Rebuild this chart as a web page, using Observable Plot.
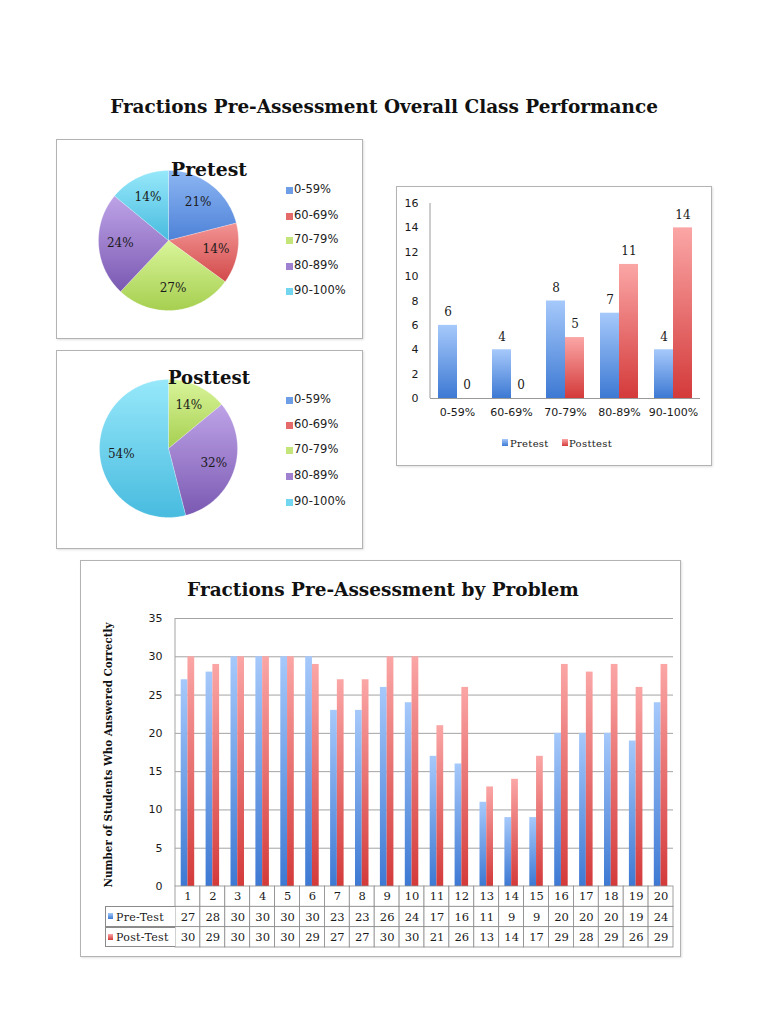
<!DOCTYPE html>
<html>
<head>
<meta charset="utf-8">
<script src="https://cdn.jsdelivr.net/npm/d3@7"></script>
<script src="https://cdn.jsdelivr.net/npm/@observablehq/plot@0.6"></script>
<style>
  body { margin: 0; background: #fff; }
  #page { position: relative; width: 768px; height: 1024px; overflow: hidden; background: #fff; }
  .box { position: absolute; border: 1px solid #b3b3b3; box-sizing: border-box; box-shadow: 1px 1px 2px rgba(0,0,0,0.12); background: #fff; }
  .txt { position: absolute; white-space: nowrap; color: #111; }
  .plotwrap { position: absolute; }
  .plotwrap svg { overflow: visible; }
</style>
</head>
<body>
<svg width="0" height="0" style="position:absolute">
  <defs>
    <linearGradient id="barBlue" x1="0" y1="0" x2="0" y2="1">
      <stop offset="0" stop-color="#a6c9fb"/><stop offset="1" stop-color="#3d79d3"/>
    </linearGradient>
    <linearGradient id="barRed" x1="0" y1="0" x2="0" y2="1">
      <stop offset="0" stop-color="#fba6a6"/><stop offset="1" stop-color="#d43a3a"/>
    </linearGradient>
    <linearGradient id="pie0" x1="0" y1="0" x2="0" y2="1">
      <stop offset="0" stop-color="#8cb5f2"/><stop offset="1" stop-color="#4e82d8"/>
    </linearGradient>
    <linearGradient id="pie1" x1="0" y1="0" x2="0" y2="1">
      <stop offset="0" stop-color="#f39494"/><stop offset="1" stop-color="#d24a4a"/>
    </linearGradient>
    <linearGradient id="pie2" x1="0" y1="0" x2="0" y2="1">
      <stop offset="0" stop-color="#d9f59a"/><stop offset="1" stop-color="#a6cf50"/>
    </linearGradient>
    <linearGradient id="pie3" x1="0" y1="0" x2="0" y2="1">
      <stop offset="0" stop-color="#bea3e7"/><stop offset="1" stop-color="#7a59b2"/>
    </linearGradient>
    <linearGradient id="pie4" x1="0" y1="0" x2="0" y2="1">
      <stop offset="0" stop-color="#97e8fa"/><stop offset="1" stop-color="#48bbdf"/>
    </linearGradient>
  </defs>
</svg>
<div id="page"></div>
<script>
// ---------------- DATA ----------------
const ranges = ["0-59%", "60-69%", "70-79%", "80-89%", "90-100%"];
const pretestPct = [21, 14, 27, 24, 14];
const posttestPct = [0, 0, 14, 32, 54];
const pretestCounts = [6, 4, 8, 7, 4];
const posttestCounts = [0, 0, 5, 11, 14];
const topTicks = [0, 2, 4, 6, 8, 10, 12, 14, 16];

const problems = [1, 2, 3, 4, 5, 6, 7, 8, 9, 10, 11, 12, 13, 14, 15, 16, 17, 18, 19, 20];
const preTest = [27, 28, 30, 30, 30, 30, 23, 23, 26, 24, 17, 16, 11, 9, 9, 20, 20, 20, 19, 24];
const postTest = [30, 29, 30, 30, 30, 29, 27, 27, 30, 30, 21, 26, 13, 14, 17, 29, 28, 29, 26, 29];
const bottomTicks = [0, 5, 10, 15, 20, 25, 30, 35];
const rowLabels = ["Pre-Test", "Post-Test"];

const mainTitle = "Fractions Pre-Assessment Overall Class Performance";
const bottomTitle = "Fractions Pre-Assessment by Problem";
const yTitle = "Number of Students Who Answered Correctly";

// ---------------- HELPERS ----------------
const NS = "http://www.w3.org/2000/svg";
const page = document.getElementById("page");
const ctx = document.createElement("canvas").getContext("2d");
function fitSize(text, weight, family, target) {
  ctx.font = `${weight} 100px ${family}`;
  return 100 * target / ctx.measureText(text).width;
}
function box(l, t, r, b) {
  const d = document.createElement("div");
  d.className = "box";
  d.style.cssText = `left:${l}px;top:${t}px;width:${r - l}px;height:${b - t}px;`;
  page.appendChild(d);
}
function label(text, x, baseline, size, family, weight, anchor, extra = "") {
  const d = document.createElement("div");
  d.className = "txt";
  d.textContent = text;
  const top = baseline - 0.845 * size;
  d.style.cssText = `top:${top}px;font:${weight} ${size}px ${family};line-height:${size}px;${extra}`;
  if (anchor === "middle") { d.style.left = x + "px"; d.style.transform = "translateX(-50%)"; }
  else d.style.left = x + "px";
  page.appendChild(d);
  return d;
}
function swatch(x, y, w, h, fill) {
  const d = document.createElement("div");
  d.style.cssText = `position:absolute;left:${x}px;top:${y}px;width:${w}px;height:${h}px;background:${fill};`;
  page.appendChild(d);
}
function mount(svg, left, top) {
  const w = document.createElement("div");
  w.className = "plotwrap";
  w.style.left = left + "px"; w.style.top = top + "px";
  w.appendChild(svg);
  page.appendChild(w);
}
function leftLine(color) {
  return (index, scales, values, dims) => {
    const l = document.createElementNS(NS, "line");
    l.setAttribute("x1", dims.marginLeft); l.setAttribute("x2", dims.marginLeft);
    l.setAttribute("y1", dims.marginTop); l.setAttribute("y2", dims.height - dims.marginBottom);
    l.setAttribute("stroke", color);
    return l;
  };
}

// ---------------- BOXES ----------------
box(56, 139, 363, 339);
box(56, 350, 363, 549);
box(396, 186, 712, 466);
box(80, 560, 681, 957);

// ---------------- MAIN TITLE ----------------
const SERIF = '"DejaVu Serif"';
const SANS = '"DejaVu Sans"';
label(mainTitle, 384, 114, fitSize(mainTitle, "bold", SERIF, 548), SERIF, "bold", "middle");

// ---------------- PIES ----------------
const pieColors = ["#6e9ee6", "#e56b6b", "#c3e57a", "#9f80d1", "#73d6f0"];
function pie(pcts, title, cx, cy, r, titleBaseline, titleWidth, legendYs) {
  let acc = 0;
  const slices = [];
  pcts.forEach((p, i) => {
    const a0 = acc / 100 * 2 * Math.PI; acc += p; const a1 = acc / 100 * 2 * Math.PI;
    if (p <= 0) return;
    const n = Math.max(2, Math.ceil((a1 - a0) / (Math.PI / 180)));
    const pts = [{x: 0, y: 0}];
    for (let k = 0; k <= n; k++) { const a = a0 + (a1 - a0) * k / n; pts.push({x: Math.sin(a), y: Math.cos(a)}); }
    pts.push({x: 0, y: 0});
    slices.push({i, range: ranges[i], pct: p, pts, mid: (a0 + a1) / 2});
  });
  const size = 2 * r;
  const svg = Plot.plot({
    width: size, height: size, margin: 0,
    style: {background: "transparent", overflow: "visible"},
    x: {domain: [-1, 1], axis: null},
    y: {domain: [-1, 1], axis: null},
    marks: [
      ...slices.map(s => Plot.line(s.pts, {x: "x", y: "y", fill: `url(#pie${s.i})`, stroke: "#ffffff", strokeWidth: 0.4, strokeOpacity: 0.6})),
      Plot.text(slices, {
        x: d => 0.69 * Math.sin(d.mid), y: d => 0.69 * Math.cos(d.mid),
        text: d => d.pct + "%", fontFamily: "DejaVu Serif", fontSize: 12, fill: "#1a1a1a"
      })
    ]
  });
  mount(svg, cx - r, cy - r);
  label(title, 209, titleBaseline, fitSize(title, "bold", SERIF, titleWidth), SERIF, "bold", "middle");
  ranges.forEach((rg, i) => {
    swatch(286, legendYs[i] - 3.5, 7, 7, pieColors[i]);
    label(rg, 294, legendYs[i] + 4, 11.5, SANS, "normal", "start", "color:#222;");
  });
}
pie(pretestPct, "Pretest", 168, 240, 70, 176, 76, [190, 216, 240, 266, 291]);
pie(posttestPct, "Posttest", 168, 448, 69, 384, 82, [400, 425, 450, 476, 502]);

// ---------------- TOP-RIGHT GROUPED BARS ----------------
const topData = ranges.map((r, i) => ({range: r, pre: pretestCounts[i], post: posttestCounts[i]}));
const topSvg = Plot.plot({
  width: 315, height: 240, marginLeft: 34, marginRight: 11, marginTop: 17, marginBottom: 28,
  style: {background: "transparent", fontFamily: "DejaVu Sans", fontSize: "11px", color: "#1a1a1a", overflow: "visible"},
  x: {domain: ranges, padding: 0, round: false, label: null, tickSize: 0, tickPadding: 10},
  y: {domain: [0, 16], ticks: topTicks, tickSize: 0, tickPadding: 12, label: null},
  marks: [
    Plot.barY(topData, {x: "range", y: "pre", fill: "url(#barBlue)", insetLeft: 8, insetRight: 27}),
    Plot.barY(topData, {x: "range", y: "post", fill: "url(#barRed)", insetLeft: 27, insetRight: 8}),
    Plot.text(topData, {x: "range", y: "pre", text: d => String(d.pre), dx: -9.5, dy: -13, fontFamily: "DejaVu Serif", fontSize: 12, fill: "#1a1a1a"}),
    Plot.text(topData, {x: "range", y: "post", text: d => String(d.post), dx: 9.5, dy: -13, fontFamily: "DejaVu Serif", fontSize: 12, fill: "#1a1a1a"}),
    Plot.ruleY([0], {stroke: "#9a9a9a"}),
    leftLine("#9a9a9a")
  ]
});
mount(topSvg, 396, 186);
swatch(502, 439, 6, 7, "linear-gradient(#a6c9fb,#3d79d3)");
label("Pretest", 510, 447, 10, SERIF, "normal", "start", "letter-spacing:0.3px;color:#222;");
swatch(562, 439, 6, 7, "linear-gradient(#fba6a6,#d43a3a)");
label("Posttest", 569, 447, 10, SERIF, "normal", "start", "letter-spacing:0.3px;color:#222;");

// ---------------- BOTTOM BAR CHART ----------------
label(bottomTitle, 383, 597, fitSize(bottomTitle, "bold", SERIF, 392), SERIF, "bold", "middle");
const yt = label(yTitle, 0, 0, fitSize(yTitle, "bold", SERIF, 265), SERIF, "bold", "start");
yt.style.left = "108px"; yt.style.top = "755px";
yt.style.transform = "translate(-50%,-50%) rotate(-90deg)";

const probData = problems.map((p, i) => ({problem: p, pre: preTest[i], post: postTest[i]}));
const bottomSvg = Plot.plot({
  width: 600, height: 286, marginLeft: 95, marginRight: 7, marginTop: 18, marginBottom: 0,
  style: {background: "transparent", fontFamily: "DejaVu Sans", fontSize: "11px", color: "#1a1a1a", overflow: "visible"},
  x: {domain: problems, padding: 0, round: false, axis: null},
  y: {domain: [0, 35], ticks: bottomTicks, tickSize: 0, tickPadding: 13, label: null},
  marks: [
    Plot.ruleY(bottomTicks.filter(v => v > 0), {stroke: "#a3a3a3"}),
    Plot.barY(probData, {x: "problem", y: "pre", fill: "url(#barBlue)", insetLeft: 5.7, insetRight: 12.45}),
    Plot.barY(probData, {x: "problem", y: "post", fill: "url(#barRed)", insetLeft: 12.45, insetRight: 5.7}),
    leftLine("#a3a3a3")
  ]
});
mount(bottomSvg, 80, 600);

// ---------------- DATA TABLE ----------------
const tableCells = [];
problems.forEach((p, i) => {
  tableCells.push({problem: p, row: "n", value: String(p)});
  tableCells.push({problem: p, row: rowLabels[0], value: String(preTest[i])});
  tableCells.push({problem: p, row: rowLabels[1], value: String(postTest[i])});
});
const tableSvg = Plot.plot({
  width: 600, height: 61, marginLeft: 95, marginRight: 7, marginTop: 0, marginBottom: 0,
  style: {background: "transparent", overflow: "visible"},
  x: {domain: problems, padding: 0, round: false, axis: null},
  y: {domain: ["n", ...rowLabels], padding: 0, round: false, axis: null},
  marks: [
    Plot.cell(tableCells, {x: "problem", y: "row", fill: "#ffffff", stroke: "#8a8a8a", strokeWidth: 0.8, inset: 0}),
    Plot.text(tableCells, {x: "problem", y: "row", text: "value", fontFamily: "DejaVu Serif", fontSize: 11.5, fill: "#1a1a1a"})
  ]
});
mount(tableSvg, 80, 886);
const rowFill = ["linear-gradient(#a6c9fb,#3d79d3)", "linear-gradient(#fba6a6,#d43a3a)"];
rowLabels.forEach((t, k) => {
  const top = 886 + 61 / 3 * (k + 1);
  const d = document.createElement("div");
  d.style.cssText = `position:absolute;left:105px;top:${top}px;width:70px;height:${61 / 3}px;border:0.8px solid #8a8a8a;border-right:none;box-sizing:border-box;background:#fff;`;
  page.appendChild(d);
  swatch(108, top + 7, 5, 6, rowFill[k]);
  label(t, 116, top + 14.5, 11, SERIF, "normal", "start", "letter-spacing:0.3px;color:#1a1a1a;");
});
</script>
</body>
</html>
